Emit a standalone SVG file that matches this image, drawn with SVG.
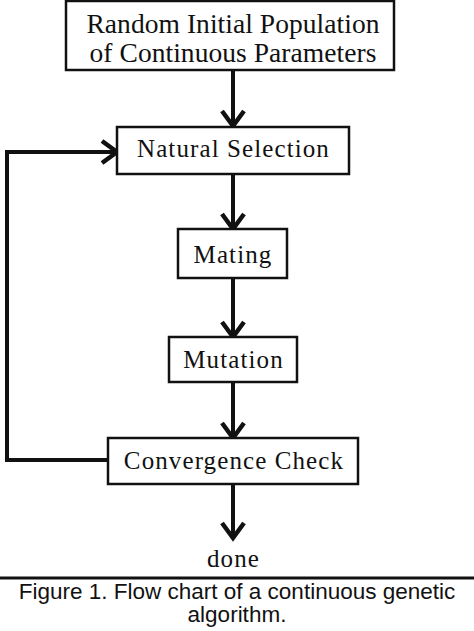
<svg xmlns="http://www.w3.org/2000/svg" width="474" height="631" viewBox="0 0 474 631">
<style>
.box{fill:#fff;stroke:#111;stroke-width:2.5}
.lbl{font-family:"Liberation Serif","Times New Roman",serif;fill:#111;text-anchor:middle;font-size:25px;letter-spacing:1.1px}
.top{font-size:27.5px;letter-spacing:0.05px}
.conn{fill:none;stroke:#111;stroke-width:4}
.cap{font-family:"Liberation Sans",Arial,sans-serif;fill:#111;text-anchor:middle;font-size:22.5px}
</style>
<defs>
<marker id="chev" markerUnits="userSpaceOnUse" markerWidth="30" markerHeight="30" viewBox="-20 -15 30 30" refX="-2" refY="0" orient="auto">
<path d="M-17,-11 L-2,0 L-17,11" fill="none" stroke="#111" stroke-width="4.5" stroke-linejoin="miter"/>
</marker>
</defs>
<rect width="474" height="631" fill="#fff"/>
<g id="connectors">
<path class="conn" d="M233,70 V126" marker-end="url(#chev)"/>
<path class="conn" d="M233,174 V229" marker-end="url(#chev)"/>
<path class="conn" d="M233,278 V337" marker-end="url(#chev)"/>
<path class="conn" d="M233,382 V438" marker-end="url(#chev)"/>
<path class="conn" d="M233,484 V538" marker-end="url(#chev)"/>
<path class="conn" d="M108,460 H7 V152 H117" marker-end="url(#chev)"/>
</g>
<g id="init">
<rect class="box" x="66" y="1" width="328" height="69"/>
<text class="lbl top" x="233" y="33">Random Initial Population</text>
<text class="lbl top" x="233" y="62">of Continuous Parameters</text>
</g>
<g id="selection">
<rect class="box" x="117" y="127" width="232" height="47"/>
<text class="lbl" x="233.5" y="157">Natural Selection</text>
</g>
<g id="mating">
<rect class="box" x="178" y="229" width="109" height="49"/>
<text class="lbl" x="233" y="263">Mating</text>
</g>
<g id="mutation">
<rect class="box" x="169" y="337" width="128" height="45"/>
<text class="lbl" x="233.5" y="368">Mutation</text>
</g>
<g id="convergence">
<rect class="box" x="108" y="438" width="250" height="46"/>
<text class="lbl" x="234" y="469">Convergence Check</text>
</g>
<g id="done">
<text class="lbl" x="233.5" y="567">done</text>
</g>
<line x1="0" y1="578" x2="474" y2="578" stroke="#111" stroke-width="3"/>
<text class="cap" x="237" y="599">Figure 1. Flow chart of a continuous genetic</text>
<text class="cap" x="237" y="622">algorithm.</text>
</svg>
